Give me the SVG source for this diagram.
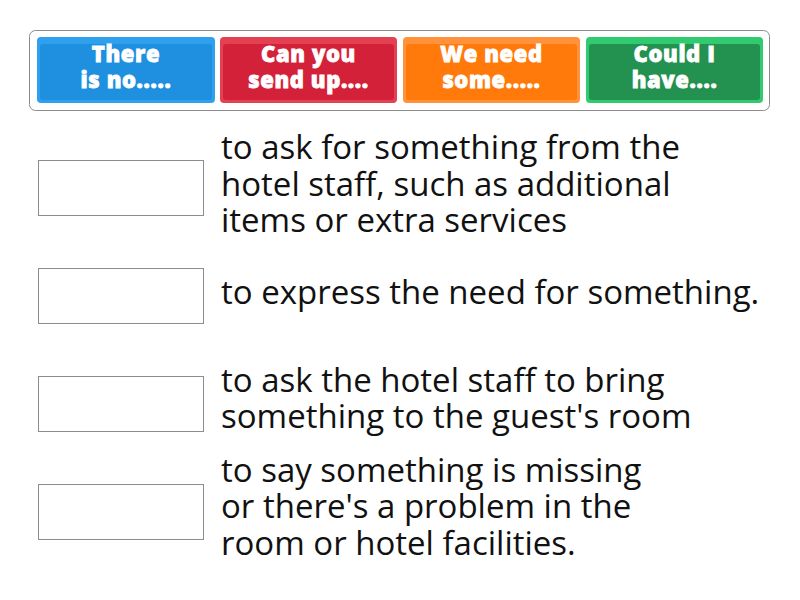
<svg xmlns="http://www.w3.org/2000/svg" width="800" height="600" viewBox="0 0 800 600">
<style>
.btnt{font-family:"Open Sans","Noto Sans",sans-serif;font-weight:800;font-size:22px;fill:#ffffff;stroke:#ffffff;stroke-width:0.8;letter-spacing:0.6px;text-anchor:middle}
.desc{font-family:"Open Sans","Noto Sans",sans-serif;font-size:33px;fill:#111111}
.slot{fill:#ffffff;stroke:#8c8c8c;stroke-width:1}
</style>
<rect width="800" height="600" fill="#ffffff"/>
<rect x="29.5" y="30.5" width="740" height="80" rx="6" fill="#ffffff" stroke="#8c8c8c" stroke-width="1"/>
<g id="btn-there">
<rect x="37" y="37" width="178" height="66" rx="4" fill="#2ea0ee"/>
<rect x="40" y="44" width="172" height="56" rx="3" fill="#1f8fe0"/>
<text class="btnt" x="126" y="62">There</text>
<text class="btnt" x="126" y="88">is no.....</text>
</g>
<g id="btn-can">
<rect x="220" y="37" width="177" height="66" rx="4" fill="#e34052"/>
<rect x="223" y="44" width="171" height="56" rx="3" fill="#d4213a"/>
<text class="btnt" x="308.5" y="62">Can you</text>
<text class="btnt" x="308.5" y="88">send up....</text>
</g>
<g id="btn-need">
<rect x="403" y="37" width="177" height="66" rx="4" fill="#ff923a"/>
<rect x="406" y="44" width="171" height="56" rx="3" fill="#ff7a0a"/>
<text class="btnt" x="491.5" y="62">We need</text>
<text class="btnt" x="491.5" y="88">some.....</text>
</g>
<g id="btn-could">
<rect x="586" y="37" width="177" height="66" rx="4" fill="#2fcb6e"/>
<rect x="589" y="44" width="171" height="56" rx="3" fill="#23914f"/>
<text class="btnt" x="674.5" y="62">Could I</text>
<text class="btnt" x="674.5" y="88">have....</text>
</g>
<g id="row1">
<rect class="slot" x="38.5" y="160.5" width="165" height="55"/>
<text class="desc" x="221" y="159">to ask for something from the</text>
<text class="desc" x="221" y="196">hotel staff, such as additional</text>
<text class="desc" x="221" y="232">items or extra services</text>
</g>
<g id="row2">
<rect class="slot" x="38.5" y="268.5" width="165" height="55"/>
<text class="desc" x="221" y="304">to express the need for something.</text>
</g>
<g id="row3">
<rect class="slot" x="38.5" y="376.5" width="165" height="55"/>
<text class="desc" x="221" y="392">to ask the hotel staff to bring</text>
<text class="desc" x="221" y="428">something to the guest's room</text>
</g>
<g id="row4">
<rect class="slot" x="38.5" y="484.5" width="165" height="55"/>
<text class="desc" x="221" y="482">to say something is missing</text>
<text class="desc" x="221" y="518">or there's a problem in the</text>
<text class="desc" x="221" y="555">room or hotel facilities.</text>
</g>
</svg>
